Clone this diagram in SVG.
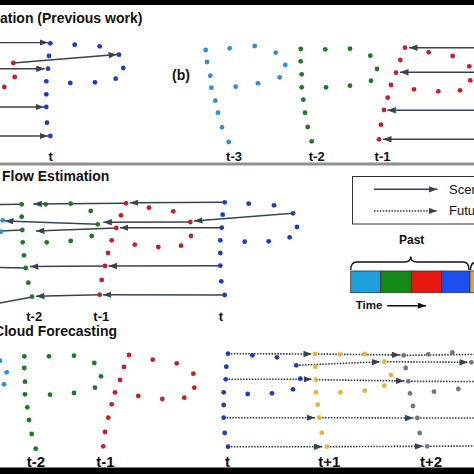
<svg xmlns="http://www.w3.org/2000/svg" width="474" height="474" viewBox="0 0 474 474">
<defs>
<style>
text{font-family:"Liberation Sans",Arial,sans-serif;fill:#111}
.ttl{font-size:14px;font-weight:bold}
.lbl{font-size:13px;font-weight:bold;text-anchor:middle}
.lbl2{font-size:15px;font-weight:bold;text-anchor:middle}
.leg{font-size:13px}
.b circle{fill:#1f3cbf}
.r circle{fill:#c41f2b}
.g circle{fill:#1d7a22}
.lb circle{fill:#2c90d2}
.o circle{fill:#e9b23c}
.gr circle{fill:#6e7782}
circle{r:2.4}
.a{stroke:#37434f;stroke-width:1.4;fill:none;marker-end:url(#ah)}
.l{stroke:#37434f;stroke-width:1.4;fill:none}
.d{stroke:#2c3641;stroke-width:1.6;stroke-dasharray:1.5 1.4;fill:none;marker-end:url(#ah)}
.dl{stroke:#2c3641;stroke-width:1.6;stroke-dasharray:1.5 1.4;fill:none}
</style>
<marker id="ah" markerUnits="userSpaceOnUse" markerWidth="9" markerHeight="7" refX="8.5" refY="3.2" orient="auto"><path d="M0,0 L8.5,3.2 L0,6.4 z" fill="#37434f"/></marker>
<marker id="ahk" markerUnits="userSpaceOnUse" markerWidth="9" markerHeight="7" refX="8.5" refY="3.2" orient="auto"><path d="M0,0 L8.5,3.2 L0,6.4 z" fill="#111"/></marker>
</defs>
<rect width="474" height="474" fill="#fff"/>
<rect x="0" y="0" width="474" height="5" fill="#000"/>
<rect x="0" y="467.5" width="474" height="6.5" fill="#000"/>
<rect x="0" y="162.5" width="474" height="3" fill="#8e8e8e"/>

<text class="ttl" x="0" y="23">ation (Previous work)</text>
<text class="ttl" x="172" y="80">(b)</text>
<text class="ttl" x="2" y="180.5">Flow Estimation</text>
<text class="ttl" x="117" y="335.5" text-anchor="end">Cloud Forecasting</text>

<g id="labels">
<text class="lbl" x="50.7" y="160.5">t</text>
<text class="lbl" x="234" y="160.5">t-3</text>
<text class="lbl" x="316.7" y="160.5">t-2</text>
<text class="lbl" x="382.5" y="160.5">t-1</text>
<text class="lbl" x="34.2" y="320.5">t-2</text>
<text class="lbl" x="101.3" y="320.5">t-1</text>
<text class="lbl" x="221" y="320.5">t</text>
<text class="lbl2" x="36" y="466.5">t-2</text>
<text class="lbl2" x="105.5" y="466.5">t-1</text>
<text class="lbl2" x="227.5" y="466.5">t</text>
<text class="lbl2" x="329.3" y="466.5">t+1</text>
<text class="lbl2" x="431" y="466.5">t+2</text>
</g>

<g id="connectors">
<path class="a" d="M0,42.6 L48,42.6"/>
<path class="a" d="M13.3,63 L117,54.5"/>
<path class="a" d="M0,68.7 L44.7,68.7"/>
<path class="a" d="M0,107 L44,107"/>
<path class="a" d="M0,136 L48,136"/>
<path class="a" d="M474,47.7 L409,47.7"/>
<path class="a" d="M474,72.3 L400,72.3"/>
<path class="a" d="M474,110.3 L387.3,110.3"/>
<path class="a" d="M474,139.3 L383,139.3"/>

<path class="a" d="M224.7,202.3 L130,202.7"/>
<path class="a" d="M126,203.3 L33.3,204"/>
<path class="l" d="M21.7,204.3 L0,204.5"/>
<path class="a" d="M293,213.3 L194,221"/>
<path class="a" d="M190.3,222 L103.3,222.3"/>
<path class="a" d="M97.7,224.3 L5,221"/>
<path class="a" d="M221.7,227.7 L120,227.8"/>
<path class="a" d="M116.3,228 L36,231"/>
<path class="l" d="M22.3,230 L0,231"/>
<path class="a" d="M220.3,265.7 L108.5,266"/>
<path class="a" d="M105,266 L30,266.5"/>
<path class="l" d="M25.7,268 L0,267.5"/>
<path class="a" d="M224.7,295 L103,294.7"/>
<path class="a" d="M99.7,294.7 L36,296.2"/>
<path class="l" d="M32,297 L0,303"/>

<path class="d" d="M228,353.7 L312,354"/>
<path class="d" d="M315,354 L400.5,355"/>
<path class="dl" d="M403.7,355.3 L474,354.5"/>
<path class="d" d="M296.3,365.3 L380.5,361.7"/>
<path class="d" d="M384.3,361.7 L468,362.3"/>
<path class="d" d="M225.7,379.3 L312,379.3"/>
<path class="d" d="M316,379.7 L404.5,381"/>
<path class="dl" d="M408.3,381.3 L474,381.5"/>
<path class="d" d="M223.7,417.7 L315,417.7"/>
<path class="d" d="M319.3,417.7 L413.5,418"/>
<path class="dl" d="M417.3,418 L474,418"/>
<path class="d" d="M228,446.7 L322.5,446.7"/>
<path class="d" d="M327,446.7 L423.5,446.3"/>
<path class="dl" d="M427.3,446.3 L474,446"/>
</g>

<g id="a-t" class="b">
<circle cx="50.3" cy="43.3"/><circle cx="74.7" cy="44.7"/><circle cx="99.7" cy="46.3"/><circle cx="119" cy="54.7"/><circle cx="49" cy="56"/><circle cx="123.3" cy="68"/><circle cx="48" cy="68.7"/><circle cx="46.3" cy="81.3"/><circle cx="70.3" cy="83"/><circle cx="95" cy="82.3"/><circle cx="115.7" cy="78.7"/><circle cx="46.3" cy="94.3"/><circle cx="46.3" cy="107"/><circle cx="47" cy="122.7"/><circle cx="50.3" cy="136"/>
</g>
<g id="a-t1" class="r">
<circle cx="13.3" cy="63"/><circle cx="14.7" cy="77"/><circle cx="4.3" cy="87"/>
</g>

<g id="b-t3" class="lb">
<circle cx="205.7" cy="50"/><circle cx="229.7" cy="48.3"/><circle cx="254.7" cy="46"/><circle cx="275.7" cy="52.7"/><circle cx="285.3" cy="65"/><circle cx="207" cy="62"/><circle cx="210.3" cy="75.7"/><circle cx="211.3" cy="87.7"/><circle cx="235.7" cy="86.7"/><circle cx="258" cy="83.3"/><circle cx="279.7" cy="77.3"/><circle cx="215.3" cy="100.7"/><circle cx="218" cy="112.7"/><circle cx="222" cy="127.3"/><circle cx="228.7" cy="142"/>
</g>
<g id="b-t2" class="g">
<circle cx="300.7" cy="49"/><circle cx="300.7" cy="61.3"/><circle cx="301.7" cy="74.3"/><circle cx="301.7" cy="87.3"/><circle cx="303.3" cy="99.7"/><circle cx="305" cy="112.7"/><circle cx="307.7" cy="127"/><circle cx="311.7" cy="141.3"/><circle cx="325.3" cy="49.3"/><circle cx="350" cy="48.7"/><circle cx="370.3" cy="55.7"/><circle cx="377" cy="69"/><circle cx="371" cy="80.7"/><circle cx="326" cy="87.3"/><circle cx="350" cy="85.7"/>
</g>
<g id="b-t1" class="r">
<circle cx="405" cy="47.7"/><circle cx="428.7" cy="52.3"/><circle cx="452.7" cy="56"/><circle cx="469.3" cy="66.3"/><circle cx="470.3" cy="80.3"/><circle cx="460" cy="90.3"/><circle cx="438.3" cy="91.3"/><circle cx="414" cy="89.3"/><circle cx="400.3" cy="60"/><circle cx="396" cy="72.7"/><circle cx="391" cy="85"/><circle cx="387.7" cy="97.7"/><circle cx="384" cy="110"/><circle cx="381" cy="124.7"/><circle cx="379" cy="139.3"/>
</g>

<g id="c-t3" class="lb">
<circle cx="2.7" cy="220.3"/><circle cx="1" cy="231.7"/>
</g>
<g id="c-t2" class="g">
<circle cx="21.7" cy="204.3"/><circle cx="45.7" cy="204.3"/><circle cx="70.7" cy="203.7"/><circle cx="90.7" cy="211"/><circle cx="97.7" cy="224.3"/><circle cx="91.7" cy="236"/><circle cx="70.7" cy="241"/><circle cx="46.7" cy="242.3"/><circle cx="21.7" cy="216.7"/><circle cx="22.3" cy="230"/><circle cx="22.7" cy="242.3"/><circle cx="24" cy="255.3"/><circle cx="25.7" cy="268"/><circle cx="28.3" cy="282.7"/><circle cx="32" cy="296.7"/>
</g>
<g id="c-t1" class="r">
<circle cx="126" cy="203.3"/><circle cx="149" cy="207.7"/><circle cx="173.3" cy="211.3"/><circle cx="190.3" cy="222"/><circle cx="191" cy="236"/><circle cx="181" cy="245.7"/><circle cx="158.3" cy="247"/><circle cx="134.7" cy="244.7"/><circle cx="121" cy="215.3"/><circle cx="116.3" cy="228"/><circle cx="111.7" cy="240.3"/><circle cx="108" cy="253"/><circle cx="105" cy="266"/><circle cx="101.7" cy="280"/><circle cx="99.7" cy="294.7"/>
</g>
<g id="c-t" class="b">
<circle cx="224.7" cy="202.3"/><circle cx="248.7" cy="203.7"/><circle cx="274" cy="205.3"/><circle cx="293" cy="213.3"/><circle cx="297" cy="227"/><circle cx="289.7" cy="237.3"/><circle cx="268.7" cy="241.3"/><circle cx="244.7" cy="241.7"/><circle cx="222.7" cy="214.7"/><circle cx="221.7" cy="227.7"/><circle cx="220.3" cy="240.3"/><circle cx="220.3" cy="253"/><circle cx="220.3" cy="265.7"/><circle cx="221.3" cy="281.3"/><circle cx="224.7" cy="295"/>
</g>

<g id="legend">
<rect x="352.5" y="176.5" width="130" height="47.5" fill="#fff" stroke="#333" stroke-width="1"/>
<path class="a" d="M374,189.3 L437.3,189.3"/>
<path class="d" d="M374,211 L437.3,211"/>
<text class="leg" x="449" y="193.5">Scene</text>
<text class="leg" x="449" y="215.3">Future</text>
</g>

<g id="timeline">
<text x="411.7" y="243.5" font-size="12" font-weight="bold" text-anchor="middle">Past</text>
<path d="M350.7,270 Q350.7,262 357,262 L404.5,262 Q410.7,262 410.7,256.5 Q410.7,262 417,262 L463,262 Q469,262 469,270" fill="none" stroke="#111" stroke-width="1.4"/>
<path d="M470.5,270 Q470.5,262 477,262" fill="none" stroke="#111" stroke-width="1.4"/>
<rect x="350.7" y="271" width="30" height="21.7" fill="#1e9fdc" stroke="#333" stroke-width="0.8"/>
<rect x="380.7" y="271" width="30.6" height="21.7" fill="#138a17" stroke="#333" stroke-width="0.8"/>
<rect x="411.3" y="271" width="30.4" height="21.7" fill="#e8170f" stroke="#333" stroke-width="0.8"/>
<rect x="441.7" y="271" width="28.3" height="21.7" fill="#1c4ff0" stroke="#333" stroke-width="0.8"/>
<rect x="470" y="271" width="6" height="21.7" fill="#f0a21f" stroke="#333" stroke-width="0.8"/>
<text x="355.7" y="308.5" font-size="11.5" font-weight="bold">Time</text>
<path d="M387.3,305.7 L426,305.7" stroke="#111" stroke-width="1.4" marker-end="url(#ahk)"/>
</g>

<g id="d-t3" class="lb">
<circle cx="0" cy="360.7"/><circle cx="6.7" cy="372.3"/><circle cx="4" cy="384.3"/>
</g>
<g id="d-t2" class="g">
<circle cx="24.3" cy="356.3"/><circle cx="49" cy="356.3"/><circle cx="74" cy="355.7"/><circle cx="94.3" cy="363"/><circle cx="101" cy="376.3"/><circle cx="95" cy="387.7"/><circle cx="74" cy="393"/><circle cx="50" cy="394.7"/><circle cx="24.3" cy="368"/><circle cx="25" cy="381.7"/><circle cx="25" cy="394.3"/><circle cx="27.3" cy="407.3"/><circle cx="29" cy="420"/><circle cx="31.7" cy="434"/><circle cx="35.7" cy="448.7"/>
</g>
<g id="d-t1" class="r">
<circle cx="129" cy="355"/><circle cx="152.7" cy="359.7"/><circle cx="176.7" cy="363.3"/><circle cx="193.3" cy="373.7"/><circle cx="194.3" cy="387.7"/><circle cx="184.3" cy="397.7"/><circle cx="162.3" cy="399"/><circle cx="138.3" cy="396"/><circle cx="124" cy="367"/><circle cx="120" cy="380"/><circle cx="115" cy="392.3"/><circle cx="111.7" cy="404.3"/><circle cx="108.3" cy="417.7"/><circle cx="105" cy="432"/><circle cx="103.3" cy="446.3"/>
</g>
<g id="d-t" class="b">
<circle cx="228" cy="353.7"/><circle cx="252.3" cy="355.3"/><circle cx="277" cy="357.3"/><circle cx="296.3" cy="365.3"/><circle cx="300.3" cy="378.7"/><circle cx="293" cy="389.3"/><circle cx="272" cy="393.3"/><circle cx="247.7" cy="394"/><circle cx="226.3" cy="366.7"/><circle cx="225.7" cy="379.3"/><circle cx="223.7" cy="392.3"/><circle cx="223.7" cy="405"/><circle cx="223.7" cy="417.7"/><circle cx="224.7" cy="433"/><circle cx="228" cy="446.7"/>
</g>
<g id="d-t+1" class="o">
<circle cx="315" cy="354"/><circle cx="340" cy="354.3"/><circle cx="364.7" cy="354"/><circle cx="384.3" cy="361.7"/><circle cx="391" cy="375"/><circle cx="384.3" cy="385.7"/><circle cx="364.7" cy="390.7"/><circle cx="340.3" cy="392.3"/><circle cx="315.3" cy="366.7"/><circle cx="316" cy="379.7"/><circle cx="316" cy="392.3"/><circle cx="317.7" cy="404.7"/><circle cx="319.3" cy="417.7"/><circle cx="321.7" cy="432.7"/><circle cx="327" cy="446.7"/>
</g>
<g id="d-t+2" class="gr">
<circle cx="403.7" cy="355.3"/><circle cx="428.3" cy="354.3"/><circle cx="452.3" cy="352.3"/><circle cx="471.3" cy="362.3"/><circle cx="405.7" cy="368"/><circle cx="408.3" cy="381.3"/><circle cx="410" cy="393.3"/><circle cx="434" cy="391.7"/><circle cx="458.3" cy="389"/><circle cx="413" cy="406"/><circle cx="417.3" cy="418"/><circle cx="419.7" cy="433"/><circle cx="427.3" cy="446.3"/>
</g>
</svg>
